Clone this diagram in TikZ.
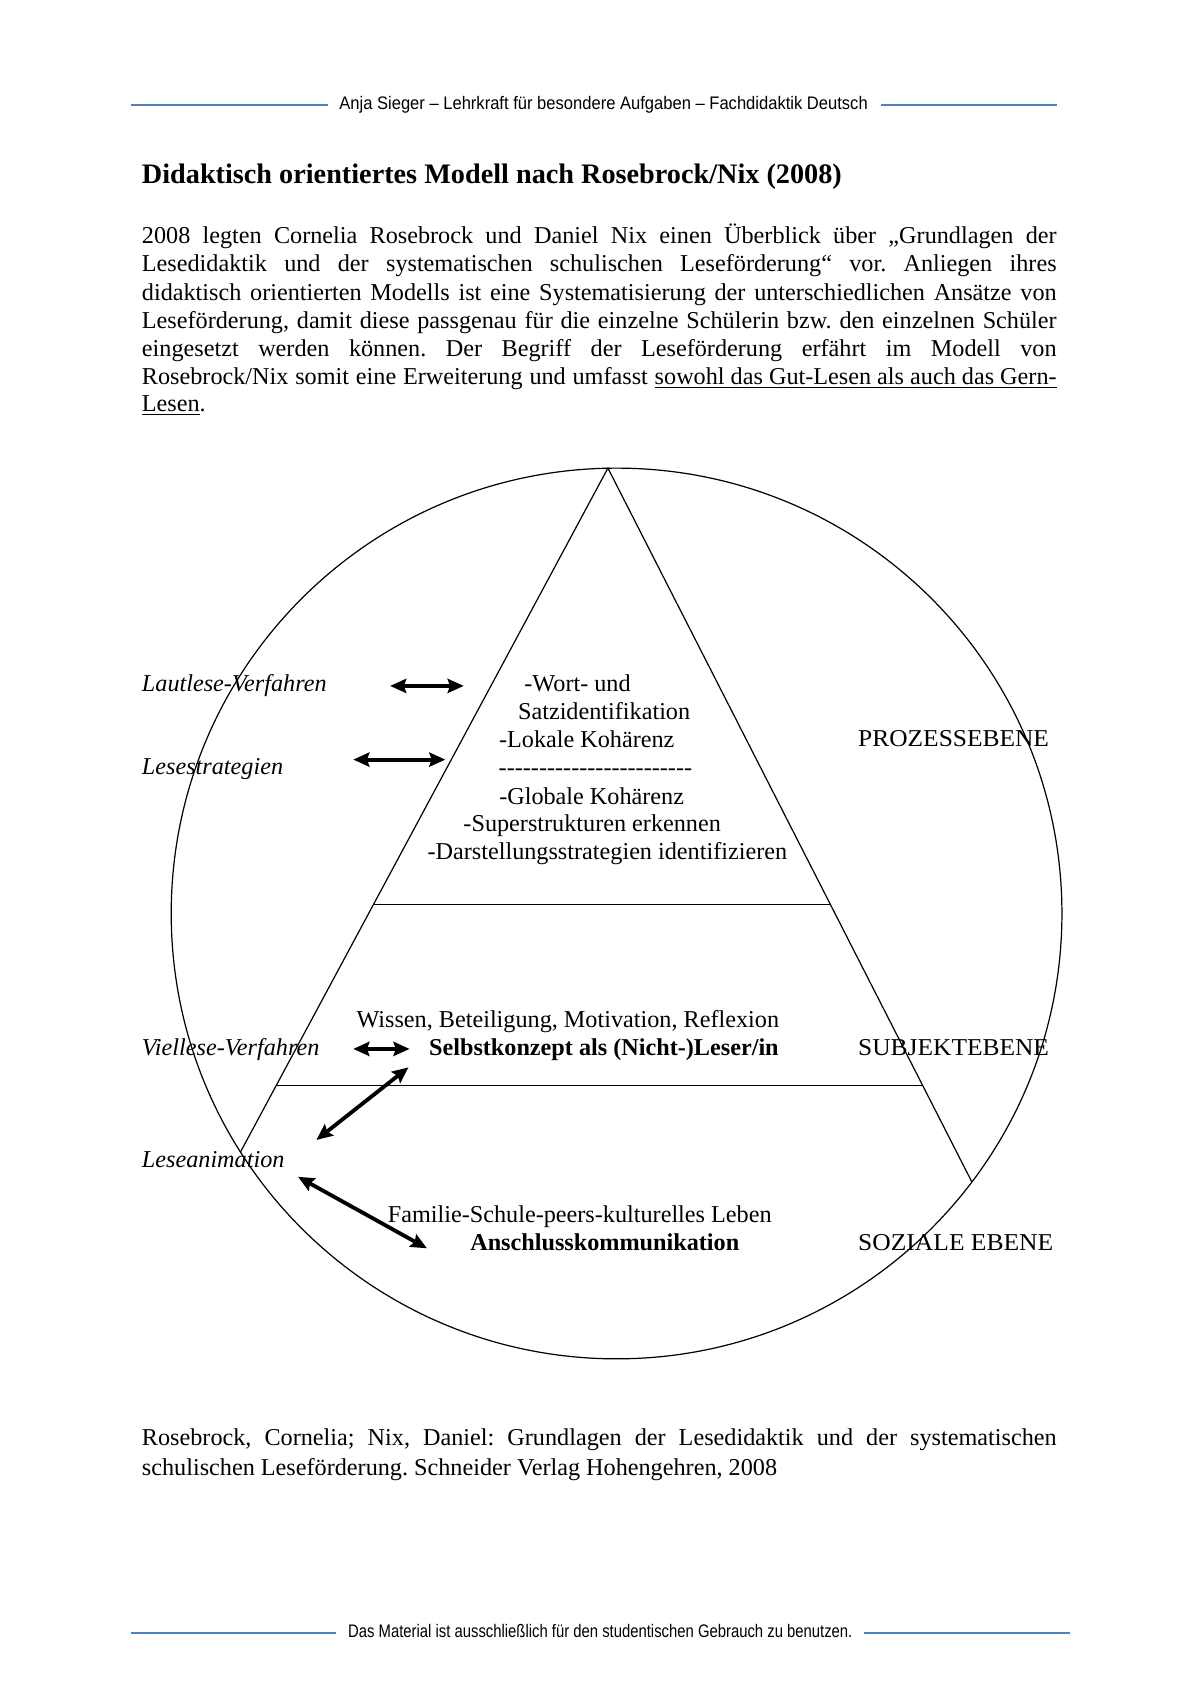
\documentclass[tikz,border=0pt]{standalone}
\usepackage{fontspec}
\setmainfont{Liberation Serif}
\newfontfamily\hdrfont{Liberation Sans}
\usetikzlibrary{arrows.meta}
\definecolor{hdrblue}{RGB}{79,129,189}
\newlength{\bodyw}
\setlength{\bodyw}{453.5pt}
\newcommand{\jline}[1]{\makebox[\bodyw][s]{#1}}
\frenchspacing
\begin{document}
\begin{tikzpicture}[x=0.53726pt,y=-0.53726pt,
  txt/.style={inner sep=0pt,outer sep=0pt,font=\fontsize{12}{14}\selectfont},
  itxt/.style={txt,font=\fontsize{12}{14}\selectfont\itshape},
  btxt/.style={txt,font=\fontsize{12}{14}\selectfont\bfseries},
  hdr/.style={inner sep=0pt,outer sep=0pt,font=\hdrfont\fontsize{9}{11}\selectfont},
  hdrline/.style={draw=hdrblue,line width=1.2pt},
  thinline/.style={draw=black,line width=0.6pt},
  biarrow/.style={{Stealth[length=8pt,width=7pt,inset=1.2pt]}-{Stealth[length=8pt,width=7pt,inset=1.2pt]},line width=1.9pt}]
\useasboundingbox (0,0) rectangle (1108,1567);
\fill[white] (0,0) rectangle (1108,1567);
% header
\node[hdr,anchor=base] (hdrtext) at (557,101) {\resizebox{262pt}{\height}{Anja Sieger – Lehrkraft für besondere Aufgaben – Fachdidaktik Deutsch}};
\coordinate (hl1) at (121,97); \coordinate (hl2) at (303,97);
\coordinate (hr1) at (813,97); \coordinate (hr2) at (975,97);
\draw[hdrline] (hl1) -- (hl2);
\draw[hdrline] (hr1) -- (hr2);
% title
\node[txt,anchor=base west,font=\fontsize{14}{16}\selectfont\bfseries] (title) at (131,169) {Didaktisch orientiertes Modell nach Rosebrock/Nix (2008)};
% body
\node[txt,anchor=base west] (b1) at (131,225) {\jline{2008 legten Cornelia Rosebrock und Daniel Nix einen Überblick über „Grundlagen der}};
\node[txt,anchor=base west] (b2) at (131,251) {\jline{Lesedidaktik und der systematischen schulischen Leseförderung“ vor. Anliegen ihres}};
\node[txt,anchor=base west] (b3) at (131,277) {\jline{didaktisch orientierten Modells ist eine Systematisierung der unterschiedlichen Ansätze von}};
\node[txt,anchor=base west] (b4) at (131,303) {\jline{Leseförderung, damit diese passgenau für die einzelne Schülerin bzw. den einzelnen Schüler}};
\node[txt,anchor=base west] (b5) at (131,329) {\jline{eingesetzt werden können. Der Begriff der Leseförderung erfährt im Modell von}};
\node[txt,anchor=base west] (b6) at (131,355) {\jline{Rosebrock/Nix somit eine Erweiterung und umfasst \underline{sowohl das Gut-Lesen als auch das Gern-}}};
\node[txt,anchor=base west] (b7) at (131,380) {\underline{Lesen}.};
% diagram shapes
\draw[thinline] (569,843) circle[radius=411];
\coordinate (apex) at (561,432);
\coordinate (tl) at (222,1063);
\coordinate (tr) at (897,1091);
\draw[thinline] (tl) -- (apex) -- (tr);
\coordinate (h1l) at (344.6,835); \coordinate (h1r) at (766.5,835);
\coordinate (h2l) at (255,1002); \coordinate (h2r) at (851.7,1002);
\draw[thinline] (h1l) -- (h1r);
\draw[thinline] (h2l) -- (h2r);
% triangle top texts
\node[txt,anchor=base] (p1) at (533,638) {-Wort- und};
\node[txt,anchor=base] (p2) at (557.5,664) {Satzidentifikation};
\node[txt,anchor=base] (p3) at (541.5,690) {-Lokale Kohärenz};
\node[txt,anchor=base] (p4) at (549.5,716) {{-}{-}{-}{-}{-}{-}{-}{-}{-}{-}{-}{-}{-}{-}{-}{-}{-}{-}{-}{-}{-}{-}{-}{-}};
\node[txt,anchor=base] (p5) at (546,742) {-Globale Kohärenz};
\node[txt,anchor=base] (p6) at (546.5,767) {-Superstrukturen erkennen};
\node[txt,anchor=base] (p7) at (560.5,793) {-Darstellungsstrategien identifizieren};
% left labels
\node[itxt,anchor=base west] (laut) at (131,638) {Lautlese-Verfahren};
\node[itxt,anchor=base west] (strat) at (131,715) {Lesestrategien};
\node[itxt,anchor=base west] (viel) at (131,974) {Viellese-Verfahren};
\node[itxt,anchor=base west] (anim) at (131,1077) {Leseanimation};
% right labels
\node[txt,anchor=base west] (proz) at (792,689) {\resizebox{94.6pt}{\height}{PROZESSEBENE}};
\node[txt,anchor=base west] (subj) at (792,974) {\resizebox{94.6pt}{\height}{SUBJEKTEBENE}};
\node[txt,anchor=base west] (soz) at (792,1154) {\resizebox{96.7pt}{\height}{SOZIALE EBENE}};
% middle texts
\node[txt,anchor=base] (wiss) at (524,948) {Wissen, Beteiligung, Motivation, Reflexion};
\node[btxt,anchor=base west] (selbst) at (396,974) {Selbstkonzept als (Nicht-)Leser/in};
\node[txt,anchor=base] (fam) at (535,1128) {Familie-Schule-peers-kulturelles Leben};
\node[btxt,anchor=base west] (ansch) at (434,1154) {Anschlusskommunikation};
% arrows
\coordinate (a1l) at (360,633); \coordinate (a1r) at (428,633);
\coordinate (a2l) at (326,701); \coordinate (a2r) at (411,701);
\coordinate (a3l) at (326,968); \coordinate (a3r) at (378,968);
\coordinate (a4t) at (377,985); \coordinate (a4b) at (292,1052);
\coordinate (a5t) at (275,1086); \coordinate (a5b) at (394,1152);
\draw[biarrow] (a1l) -- (a1r);
\draw[biarrow] (a2l) -- (a2r);
\draw[biarrow] (a3l) -- (a3r);
\draw[biarrow] (a4t) -- (a4b);
\draw[biarrow] (a5t) -- (a5b);
% reference
\node[txt,anchor=base west] (r1) at (131,1334) {\jline{Rosebrock, Cornelia; Nix, Daniel: Grundlagen der Lesedidaktik und der systematischen}};
\node[txt,anchor=base west] (r2) at (131,1362) {schulischen Leseförderung. Schneider Verlag Hohengehren, 2008};
% footer
\node[hdr,anchor=base] (ftext) at (554,1511) {\resizebox{250pt}{\height}{Das Material ist ausschließlich für den studentischen Gebrauch zu benutzen.}};
\coordinate (fl1) at (121,1507); \coordinate (fl2) at (310,1507);
\coordinate (fr1) at (797,1507); \coordinate (fr2) at (987,1507);
\draw[hdrline] (fl1) -- (fl2);
\draw[hdrline] (fr1) -- (fr2);
\end{tikzpicture}
\end{document}
